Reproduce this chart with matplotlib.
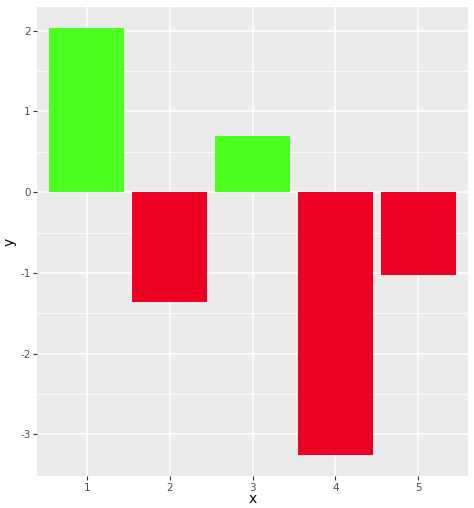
import matplotlib
matplotlib.use("Agg")
import matplotlib.pyplot as plt

plt.rcParams["axes.unicode_minus"] = False

x_vals = [1, 2, 3, 4, 5]
y_vals = [2.03, -1.36, 0.70, -3.25, -1.03]
x_ticks = [1, 2, 3, 4, 5]
y_ticks = [-3, -2, -1, 0, 1, 2]

pos_color = "#4CFF1F"
neg_color = "#EE0022"
colors = [pos_color if v > 0 else neg_color for v in y_vals]

W, H = 474, 508
fig = plt.figure(figsize=(W / 100, H / 100), dpi=100)
left, right, top, bottom = 37, 468, 7, 476
ax = fig.add_axes([left / W, 1 - bottom / H, (right - left) / W, (bottom - top) / H])
ax.set_facecolor("#EBEBEB")
for s in ax.spines.values():
    s.set_visible(False)

ax.bar(x_vals, y_vals, width=0.9, color=colors, zorder=3)

ax.set_xlim(0.4, 5.6)
ymin, ymax = min(y_vals + [0]), max(y_vals + [0])
pad = (ymax - ymin) * 0.05
ax.set_ylim(ymin - pad, ymax + pad)

ax.set_xticks(x_ticks)
ax.set_yticks(y_ticks)
ax.set_yticks([-2.5, -1.5, -0.5, 0.5, 1.5], minor=True)
ax.grid(True, which="major", color="white", linewidth=1.1, zorder=1)
ax.grid(True, which="minor", axis="y", color="white", linewidth=0.55, zorder=1)
ax.tick_params(which="major", length=2.7, width=0.8, color="#333333",
               labelsize=7.5, labelcolor="#4D4D4D", pad=2)
ax.tick_params(which="minor", length=0)
ax.set_xlabel("x", fontsize=10, color="black")
ax.set_ylabel("y", fontsize=10, color="black")
pw = (right - left)
ph = (bottom - top)
ax.xaxis.set_label_coords(0.5, -(499 - bottom) / ph)
ax.yaxis.set_label_coords(-(left - 10) / pw, 0.5)
ax.xaxis.label.set_va("center")
ax.yaxis.label.set_va("center")

fig.savefig("out.png", dpi=100, facecolor="white")
